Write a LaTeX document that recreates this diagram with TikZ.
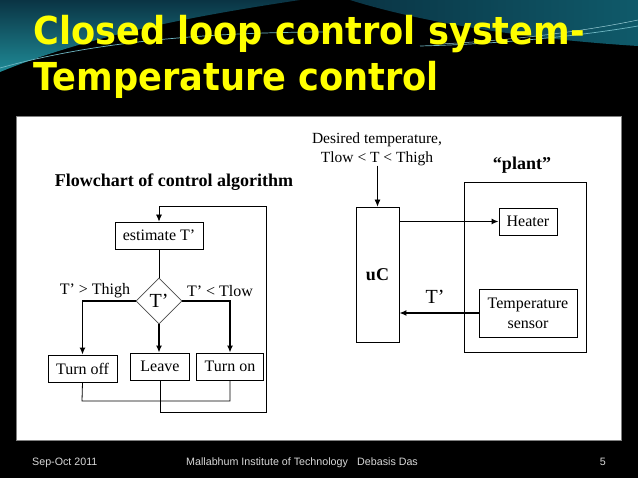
\documentclass[tikz,border=0pt]{standalone}
\usepackage{fontspec}
\usepackage{graphicx}
\setmainfont{Liberation Serif}
\newfontfamily\titlefont{DejaVu Sans}
\newfontfamily\footfont{Liberation Sans}
\usetikzlibrary{arrows.meta,shapes.geometric}
\definecolor{tealA}{HTML}{1F8A96}
\definecolor{tealB}{HTML}{0F5A6A}
\definecolor{tealC}{HTML}{0A3444}
\definecolor{streak}{HTML}{6FB8C4}
\definecolor{ttl}{HTML}{FFFF00}
\definecolor{foot}{HTML}{D8D8D8}
\begin{document}
\begin{tikzpicture}[x=1pt,y=-1pt,
  box/.style={draw=black, line width=0.8pt, fill=white, inner sep=0pt, font=\fontsize{16}{19}\selectfont},
  thin/.style={line width=0.8pt},
  thk/.style={line width=1.6pt},
  arr/.style={-{Latex[length=7pt,width=6pt]}},
  lbl/.style={inner sep=0pt, font=\fontsize{16}{19}\selectfont},
  titletext/.style={anchor=base west, inner sep=0pt, text=ttl, font=\titlefont\bfseries\fontsize{38.5}{44}\selectfont},
  foottext/.style={inner sep=0pt, anchor=base west, text=foot, font=\footfont\fontsize{10.7}{13}\selectfont}
]
\useasboundingbox (0,0) rectangle (638,478);
\fill[black] (0,0) rectangle (638,478);
% swoosh background
\shade[top color=tealC, bottom color=tealA] (0,0) -- (300,0) .. controls (200,15) and (90,35) .. (0,72) -- cycle;
\shade[left color=tealC, right color=tealB] (350,0) -- (638,0) -- (638,46) .. controls (540,40) and (430,25) .. (350,0) -- cycle;
\draw[streak, line width=0.7pt] (0,68) .. controls (100,40) and (220,32) .. (330,32);
\draw[streak, line width=0.7pt] (420,46) .. controls (500,44) and (580,36) .. (638,26);
\draw[streak!70, line width=0.5pt] (440,44) .. controls (520,40) and (590,30) .. (638,20);
% title
\node[titletext] (t1) at (33,45) {\scalebox{0.914}[1]{Closed loop control system-}};
\node[titletext] (t2) at (33,91) {\scalebox{0.914}[1]{Temperature control}};
% panel
\draw[fill=white, draw=gray] (16,116) rectangle (621,440);
% flowchart
\node[inner sep=0pt, font=\bfseries\fontsize{18}{21}\selectfont] (fct) at (174,182) {Flowchart of control algorithm};
\node[box, minimum width=88, minimum height=27] (est) at (159,235.5) {estimate T’};
\node[diamond, draw=black!70, line width=0.8pt, fill=white, minimum width=46, minimum height=46, inner sep=0pt, font=\fontsize{20}{22}\selectfont] (dia) at (159,301) {T’};
\node[box, minimum width=69, minimum height=27] (off) at (82.5,368.5) {Turn off};
\node[box, minimum width=59, minimum height=27] (leave) at (160,366.5) {Leave};
\node[box, minimum width=67, minimum height=27] (on) at (230,366.5) {Turn on};
\node[lbl] (lhigh) at (95,291) {T’ > Thigh};
\node[lbl] (llow) at (220,291) {T’ < Tlow};
\draw[thin] (est.south) -- (dia.north);
\draw[thk, arr] (dia.west) -| (off.north);
\draw[thk, arr] (dia.south) -- (leave.north -| dia.south);
\draw[thk, arr] (dia.east) -| (on.north);
\coordinate (jn) at (82,401);
\draw[thin] (off.south) -- (jn) -| (on.south);
\coordinate (rb) at (266,412);
\coordinate (rt) at (266,206);
\draw[thin, arr] (leave.south) |- (rb) -- (rt) -| (est.north);
% right diagram
\node[lbl, align=center, font=\fontsize{15.5}{19}\selectfont] (des) at (377,149) {Desired temperature,\\Tlow < T < Thigh};
\node[box, minimum width=43, minimum height=135, font=\bfseries\fontsize{18}{21}\selectfont] (uc) at (377.5,274.5) {uC};
\node[box, minimum width=122, minimum height=170] (plant) at (525,267) {};
\node[lbl, font=\bfseries\fontsize{18}{21}\selectfont] (plbl) at (522,165) {“plant”};
\node[box, minimum width=58, minimum height=27] (heat) at (528,221.5) {Heater};
\node[box, minimum width=98, minimum height=48, align=center, font=\fontsize{16}{20}\selectfont] (sens) at (528,313) {Temperature\\sensor};
\node[lbl, font=\fontsize{20}{22}\selectfont] (tp) at (435,297) {T’};
\draw[thin, arr] (des.south -| uc.north) -- (uc.north);
\draw[thk, arr] (uc.east |- heat.west) -- (heat.west);
\draw[thk, arr] (sens.west) -- (sens.west -| uc.east);
% footer
\node[foottext] (f1) at (32,466) {Sep-Oct 2011};
\node[foottext] (f2) at (186,466) {Mallabhum Institute of Technology};
\node[foottext] (f3) at (357,466) {Debasis Das};
\node[foottext, anchor=base east] (f4) at (606,466) {5};
\end{tikzpicture}
\end{document}
